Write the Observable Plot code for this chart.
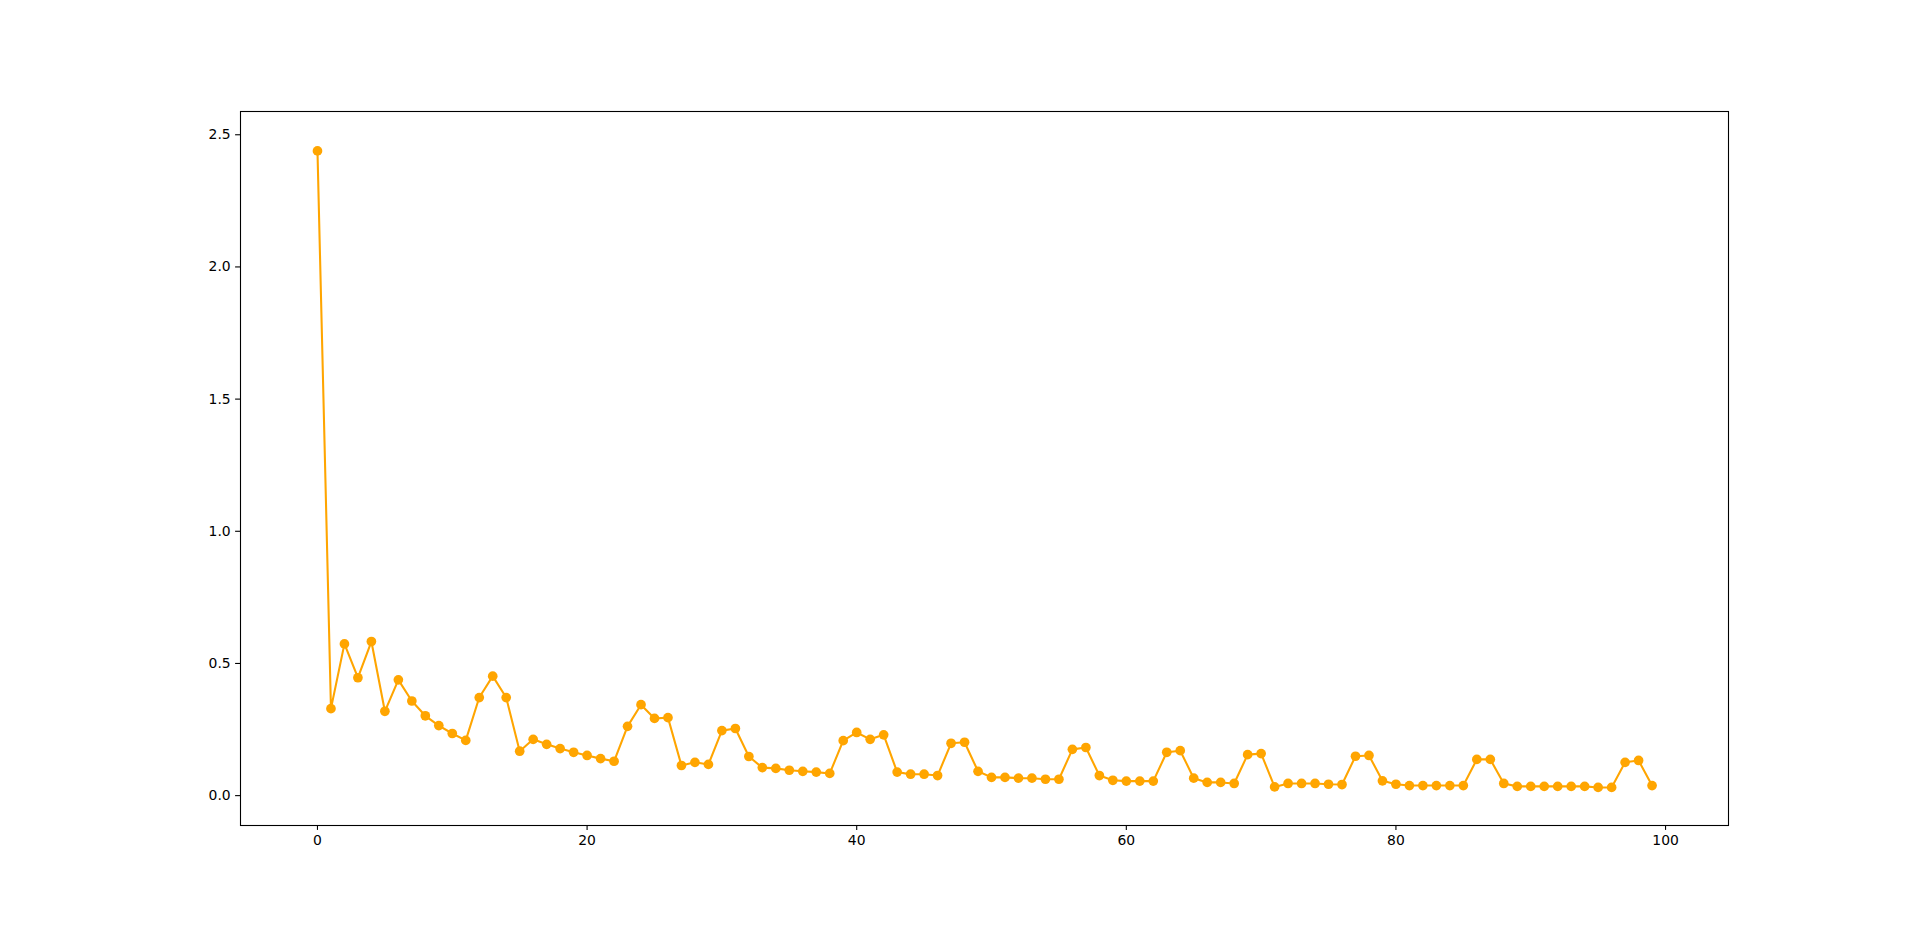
<!DOCTYPE html>
<html>
<head>
<meta charset="utf-8">
<script src="https://cdn.jsdelivr.net/npm/d3@7"></script>
<script src="https://cdn.jsdelivr.net/npm/@observablehq/plot@0.6"></script>
<style>
html, body { margin: 0; padding: 0; background: #fff; overflow: hidden; }
#chart svg { display: block; }
</style>
</head>
<body>
<div id="chart"></div>
<script>
const values = [
  2.439, 0.329, 0.574, 0.446, 0.583, 0.319, 0.438, 0.358, 0.302, 0.265,
  0.235, 0.209, 0.371, 0.452, 0.371, 0.168, 0.213, 0.194, 0.178, 0.164,
  0.152, 0.140, 0.130, 0.262, 0.344, 0.292, 0.295, 0.114, 0.126, 0.118,
  0.246, 0.254, 0.148, 0.106, 0.103, 0.096, 0.092, 0.089, 0.084, 0.208,
  0.239, 0.213, 0.230, 0.089, 0.081, 0.081, 0.076, 0.198, 0.202, 0.092,
  0.069, 0.069, 0.066, 0.066, 0.062, 0.062, 0.175, 0.182, 0.076, 0.058,
  0.055, 0.055, 0.055, 0.164, 0.170, 0.066, 0.050, 0.050, 0.046, 0.155,
  0.159, 0.033, 0.046, 0.046, 0.046, 0.043, 0.042, 0.149, 0.152, 0.056,
  0.043, 0.038, 0.038, 0.038, 0.038, 0.038, 0.137, 0.137, 0.046, 0.035,
  0.035, 0.035, 0.035, 0.035, 0.035, 0.031, 0.031, 0.126, 0.133, 0.038
];
const steps = values.map((_, i) => i);
const xTicks = [0, 20, 40, 60, 80, 100];
const yTicks = [0.0, 0.5, 1.0, 1.5, 2.0, 2.5];

const data = steps.map((s, i) => ({step: s, value: values[i]}));

const chart = Plot.plot({
  width: 1920,
  height: 927,
  marginLeft: 240,
  marginRight: 192,
  marginTop: 111,
  marginBottom: 102,
  style: {fontFamily: "DejaVu Sans", fontSize: "13.9px", color: "black", background: "white"},
  x: {domain: [-5.71, 104.67]},
  y: {domain: [-0.113, 2.588]},
  marks: [
    Plot.axisX({ticks: xTicks, tickFormat: d => String(d), tickSize: 4.9, tickPadding: 4.9, label: null, stroke: "black", strokeWidth: 1.1, fontSize: 13.9}),
    Plot.axisY({ticks: yTicks, tickFormat: d3.format(".1f"), tickSize: 4.9, tickPadding: 4.9, label: null, stroke: "black", strokeWidth: 1.1, fontSize: 13.9}),
    Plot.line(data, {x: "step", y: "value", stroke: "#FFA500", strokeWidth: 2.08}),
    Plot.dot(data, {x: "step", y: "value", fill: "#FFA500", r: 4.85, stroke: "none"}),
    Plot.frame({stroke: "black", strokeWidth: 1.1})
  ]
});
document.getElementById("chart").appendChild(chart);
</script>
</body>
</html>
